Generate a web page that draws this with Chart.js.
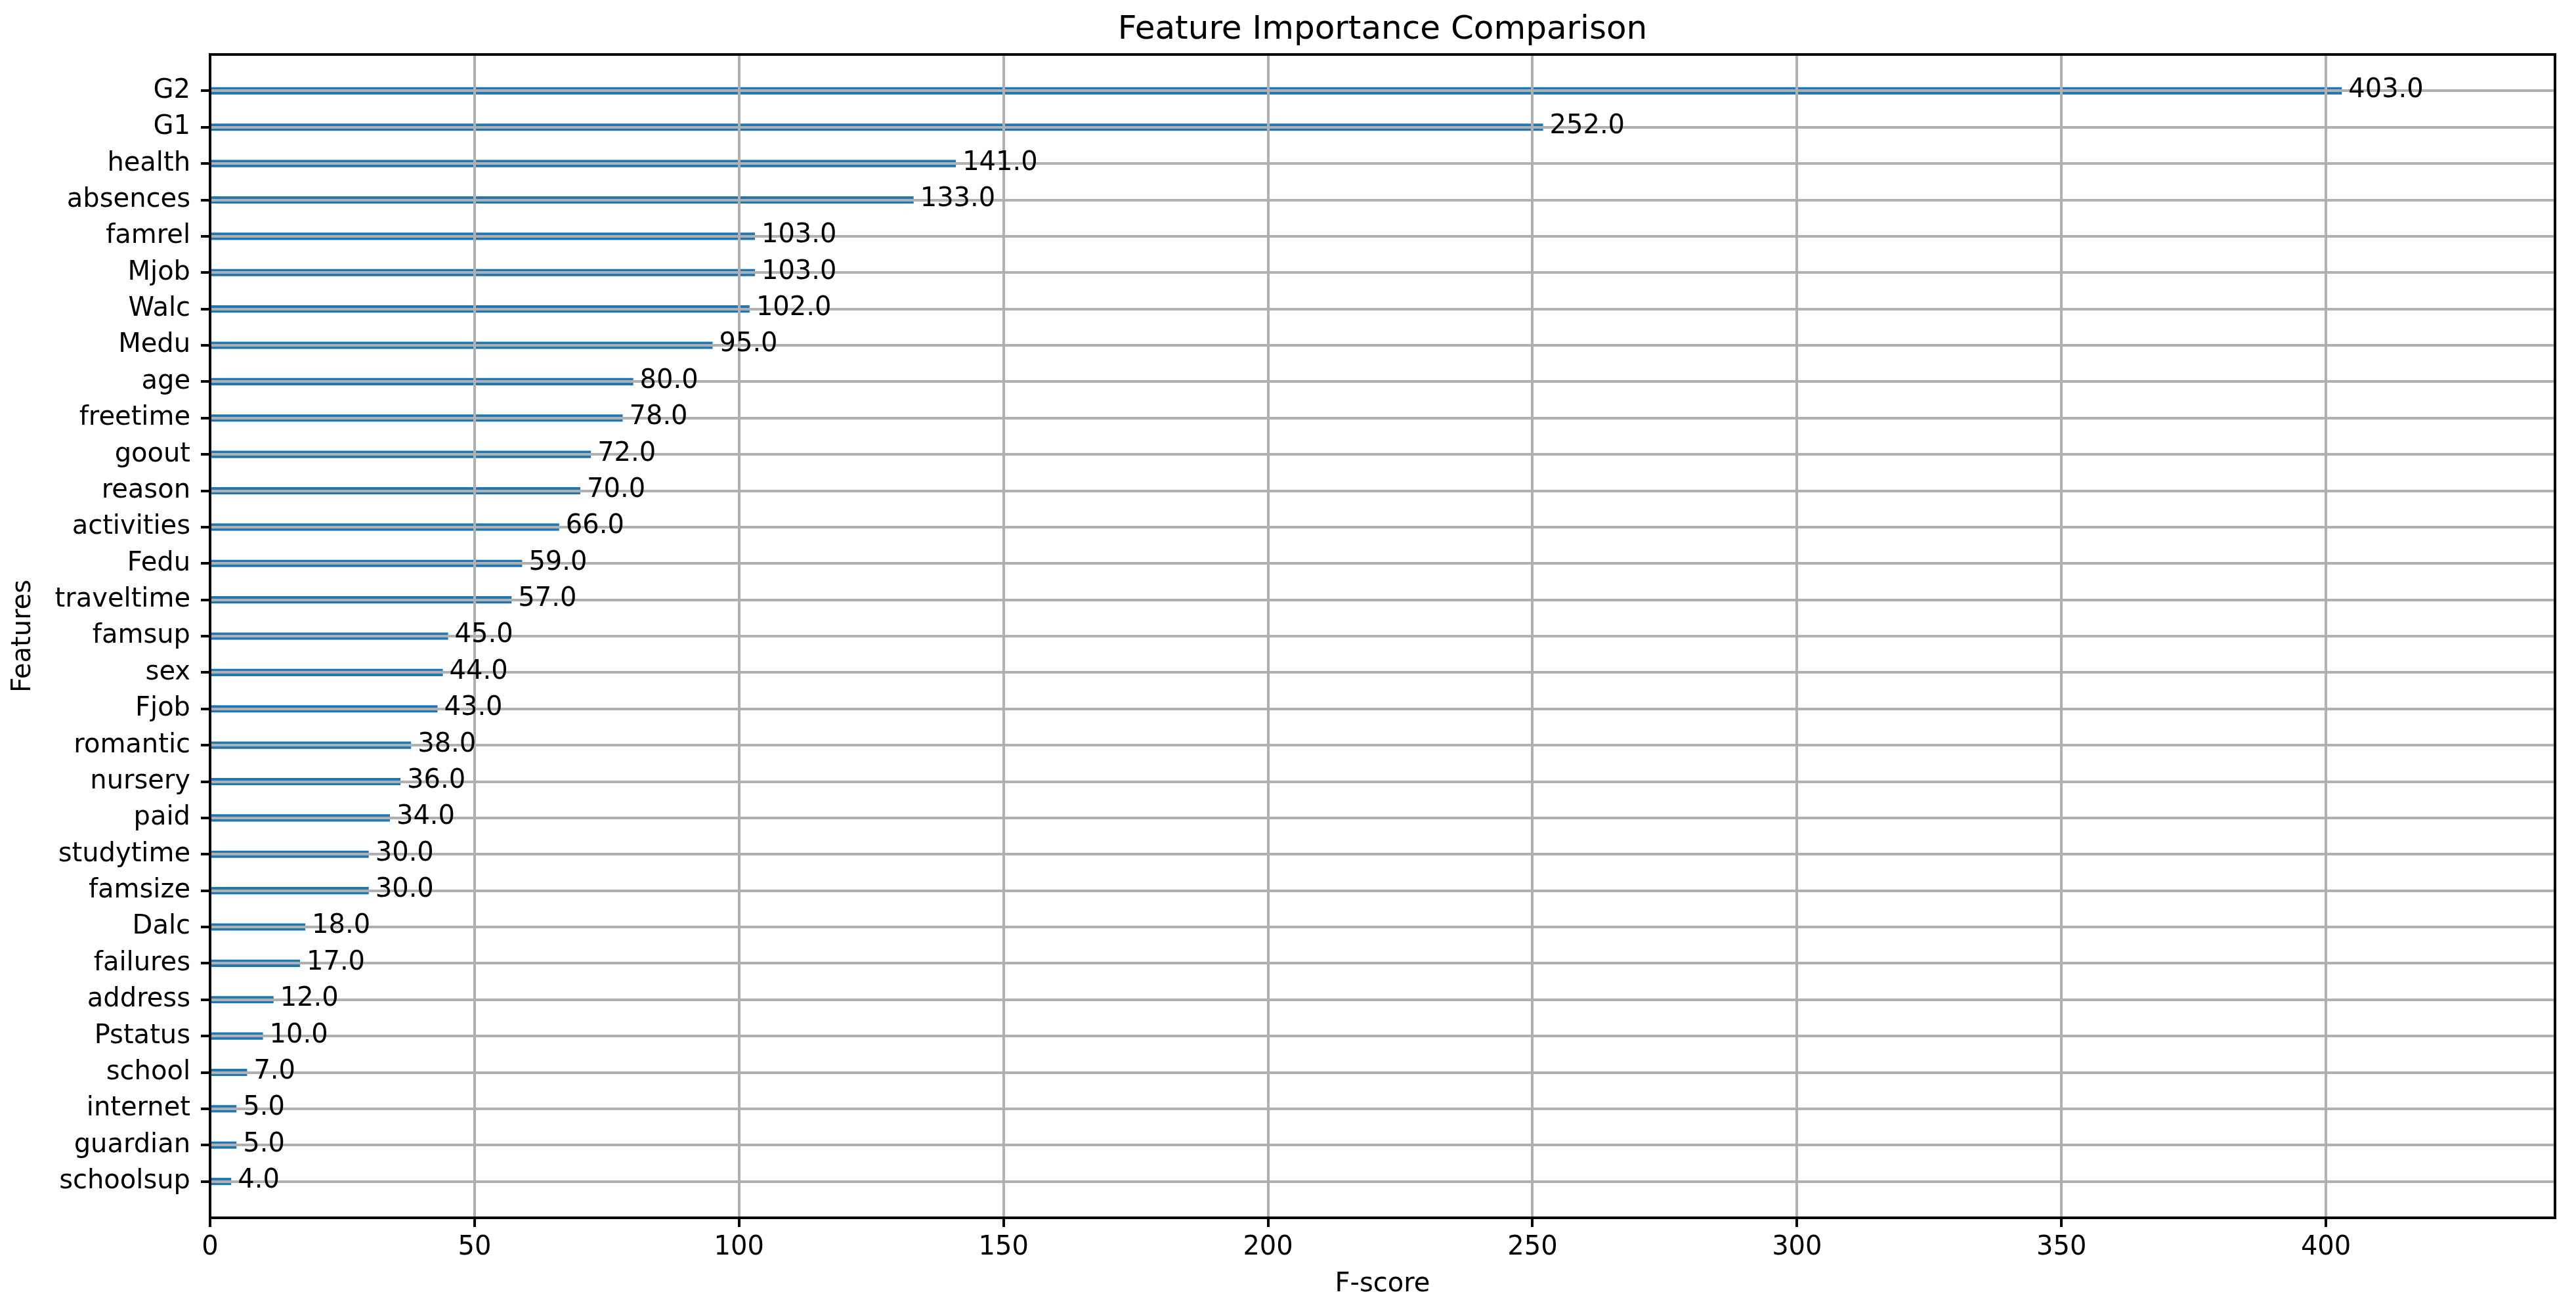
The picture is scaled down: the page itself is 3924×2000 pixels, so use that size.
<!DOCTYPE html>
<html><head><meta charset="utf-8">
<script src="https://cdn.jsdelivr.net/npm/chart.js@4"></script>
<style>html,body{margin:0;padding:0;background:#fff}</style>
</head><body>
<canvas id="c" width="3924" height="2000" style="width:3924px;height:2000px;display:block"></canvas>
<script>
// Data (top to bottom as displayed)
const features = ["G2","G1","health","absences","famrel","Mjob","Walc","Medu","age","freetime","goout","reason","activities","Fedu","traveltime","famsup","sex","Fjob","romantic","nursery","paid","studytime","famsize","Dalc","failures","address","Pstatus","school","internet","guardian","schoolsup"];
const scores = [403,252,141,133,103,103,102,95,80,78,72,70,66,59,57,45,44,43,38,36,34,30,30,18,17,12,10,7,5,5,4];
const xTickValues = [0,50,100,150,200,250,300,350,400];
const chartTitle = "Feature Importance Comparison";
const xTitle = "F-score";
const yTitle = "Features";

const n = features.length;
const points = scores.map((v, i) => ({x: v, y: n - 1 - i}));
const labelAt = (idx) => features[n - 1 - idx];
const xMax = Math.max(...scores) * 1.1;

Chart.defaults.font.family = "'DejaVu Sans', sans-serif";
Chart.defaults.color = '#000';

const decorations = {
  id: 'decorations',
  afterDraw(chart) {
    const ctx = chart.ctx;
    const meta = chart.getDatasetMeta(0);
    const a = chart.chartArea;
    ctx.save();
    // axes frame
    ctx.strokeStyle = '#000';
    ctx.lineWidth = 4;
    ctx.strokeRect(a.left, a.top, a.right - a.left, a.bottom - a.top);
    // title centred over the axes
    ctx.fillStyle = '#000';
    ctx.font = "50px 'DejaVu Sans'";
    ctx.textAlign = 'center';
    ctx.textBaseline = 'middle';
    ctx.fillText(chartTitle, (a.left + a.right) / 2, 46);
    // value labels
    ctx.font = "40px 'DejaVu Sans'";
    ctx.textAlign = 'left';
    meta.data.forEach((bar, i) => {
      const v = chart.data.datasets[0].data[i].x;
      ctx.fillText(v.toFixed(1), bar.x + 10, bar.y - 1);
    });
    ctx.restore();
  }
};

new Chart(document.getElementById('c'), {
  type: 'bar',
  data: {
    datasets: [{
      data: points,
      backgroundColor: '#1f77b4',
      borderWidth: 0,
      categoryPercentage: 1,
      barPercentage: 0.2
    }]
  },
  options: {
    indexAxis: 'y',
    responsive: false,
    animation: false,
    devicePixelRatio: 1,
    layout: {padding: {left: 0, right: 32, top: 83, bottom: 0}},
    plugins: {
      legend: {display: false},
      tooltip: {enabled: false},
      title: {display: false}
    },
    scales: {
      x: {
        type: 'linear',
        position: 'bottom',
        min: 0,
        max: xMax,
        z: 1,
        afterBuildTicks: (s) => { s.ticks = xTickValues.map(v => ({value: v})); },
        afterFit: (s) => { s.height = 145; },
        ticks: {font: {size: 40}, color: '#000', padding: 8, maxRotation: 0, autoSkip: false},
        grid: {z: 1, color: '#b0b0b0', lineWidth: 4, tickColor: '#000', tickWidth: 4, tickLength: 14, drawTicks: true},
        border: {display: false},
        title: {display: true, text: xTitle, color: '#000', font: {size: 40, lineHeight: 1.2}, padding: {top: 0, bottom: 19}}
      },
      y: {
        type: 'linear',
        min: -1,
        max: n,
        offset: false,
        z: 1,
        afterBuildTicks: (s) => { s.ticks = features.map((f, i) => ({value: i})); },
        afterFit: (s) => { s.width = 320; },
        ticks: {font: {size: 40}, color: '#000', padding: 16, autoSkip: false, callback: (v) => labelAt(v)},
        grid: {z: 1, offset: false, color: '#b0b0b0', lineWidth: 4, tickColor: '#000', tickWidth: 4, tickLength: 14, drawTicks: true},
        border: {display: false},
        title: {display: true, text: yTitle, color: '#000', font: {size: 40, lineHeight: 1.2}, padding: {top: 12, bottom: 0}}
      }
    }
  },
  plugins: [decorations]
});
</script>
</body></html>
